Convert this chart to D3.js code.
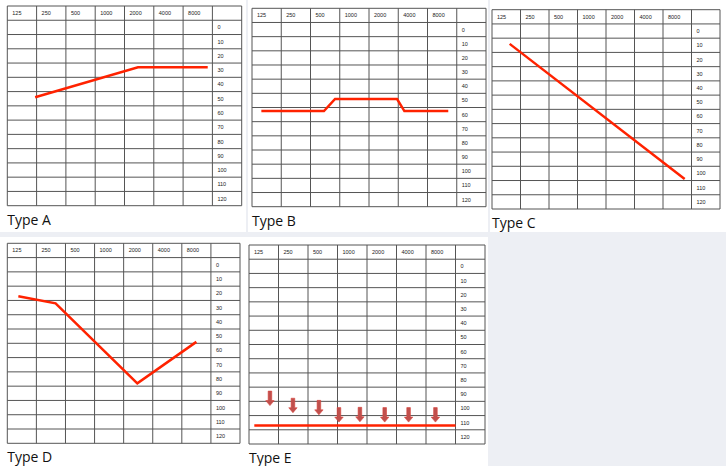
<!DOCTYPE html>
<html><head><meta charset="utf-8">
<script src="https://cdn.jsdelivr.net/npm/d3@7"></script>
<style>body{margin:0;background:#edeff4}svg{display:block}</style>
</head><body><svg id="c" width="726" height="466"></svg>
<script>
const freqs = ['125','250','500','1000','2000','4000','8000']
const levels = [0,10,20,30,40,50,60,70,80,90,100,110,120]
// x = column position (0 = left edge of 125 column), y = dB
const typeA = [[0.95,54],[4.46,33],[6.84,33]]
const typeB = [[0.32,62.5],[2.46,62.5],[2.84,54],[4.96,54],[5.21,62.5],[6.71,62.5]]
const typeC = [[0.62,14],[6.76,109]]
const typeD = [[0.38,27],[1.66,32],[4.47,88],[6.5,59]]
const typeE = [[0.18,117],[7.0,117]]
// no-response arrows: column position, tip dB
const arrowsE = [[0.71,103],[1.49,108],[2.37,109.5],[3.05,114.6],[3.76,114.4],[4.6,114.6],[5.41,114.6],[6.32,114.6]]

const panels = [
  {name:'Type A', bg:[0,0,246,232], box:[7.3,6,241.7,205.7], line:typeA},
  {name:'Type B', bg:[248,0,240,232], box:[252,8.3,486,206.7], line:typeB},
  {name:'Type C', bg:[490,0,236,232], box:[492,9.7,720,209], line:typeC},
  {name:'Type D', bg:[0,237,246,229], box:[7.3,243.3,240,443.3], line:typeD},
  {name:'Type E', bg:[246,237,242,229], box:[249,245,485,444], line:typeE, arrows:arrowsE}
]

const svg = d3.select('#c')
panels.forEach(p => {
  const [x0,y0,x1,y1] = p.box
  const x = d3.scaleLinear().domain([0,8]).range([x0,x1])
  const y = d3.scaleLinear().domain([-10,130]).range([y0,y1])
  const g = svg.append('g')
  g.append('rect').attr('x',p.bg[0]).attr('y',p.bg[1]).attr('width',p.bg[2]).attr('height',p.bg[3]).attr('fill','#fff')
  g.selectAll('.v').data(d3.range(9)).join('line')
    .attr('x1',d=>x(d)).attr('x2',d=>x(d)).attr('y1',y0).attr('y2',y1)
    .attr('stroke','#555').attr('stroke-width',1)
  g.selectAll('.h').data(d3.range(-10,131,10)).join('line')
    .attr('x1',x0).attr('x2',x1).attr('y1',d=>y(d)).attr('y2',d=>y(d))
    .attr('stroke','#555').attr('stroke-width',1)
  g.selectAll('.f').data(freqs).join('text')
    .attr('x',(d,i)=>x(i)+5).attr('y',y(-5)+2)
    .attr('font-family','Liberation Sans, Arial').attr('font-size',5.5).attr('fill','#222').text(d=>d)
  g.selectAll('.l').data(levels).join('text')
    .attr('x',x(7)+5).attr('y',d=>y(d+5)+2)
    .attr('font-family','Liberation Sans, Arial').attr('font-size',5.5).attr('fill','#222').text(d=>d)
  g.append('path').datum(p.line)
    .attr('d',d3.line().x(d=>x(d[0])).y(d=>y(d[1])))
    .attr('fill','none').attr('stroke','#ff2200').attr('stroke-width',2.5)
  if (p.arrows) {
    const a = g.selectAll('.a').data(p.arrows).join('g')
      .attr('transform',d=>`translate(${x(d[0])},${y(d[1])})`)
    a.append('path').attr('d','M-1.8,-14.5 H1.8 V-5 H4.2 L0,0 L-4.2,-5 H-1.8 Z')
      .attr('fill','#c0504d').attr('stroke','#d9413a').attr('stroke-width',0.6)
  }
  g.append('text').attr('x',x0).attr('y',y1+19)
    .attr('font-family','Open Sans, Liberation Sans, Arial').attr('font-size',14).attr('fill','#111').text(p.name)
})
</script></body></html>
